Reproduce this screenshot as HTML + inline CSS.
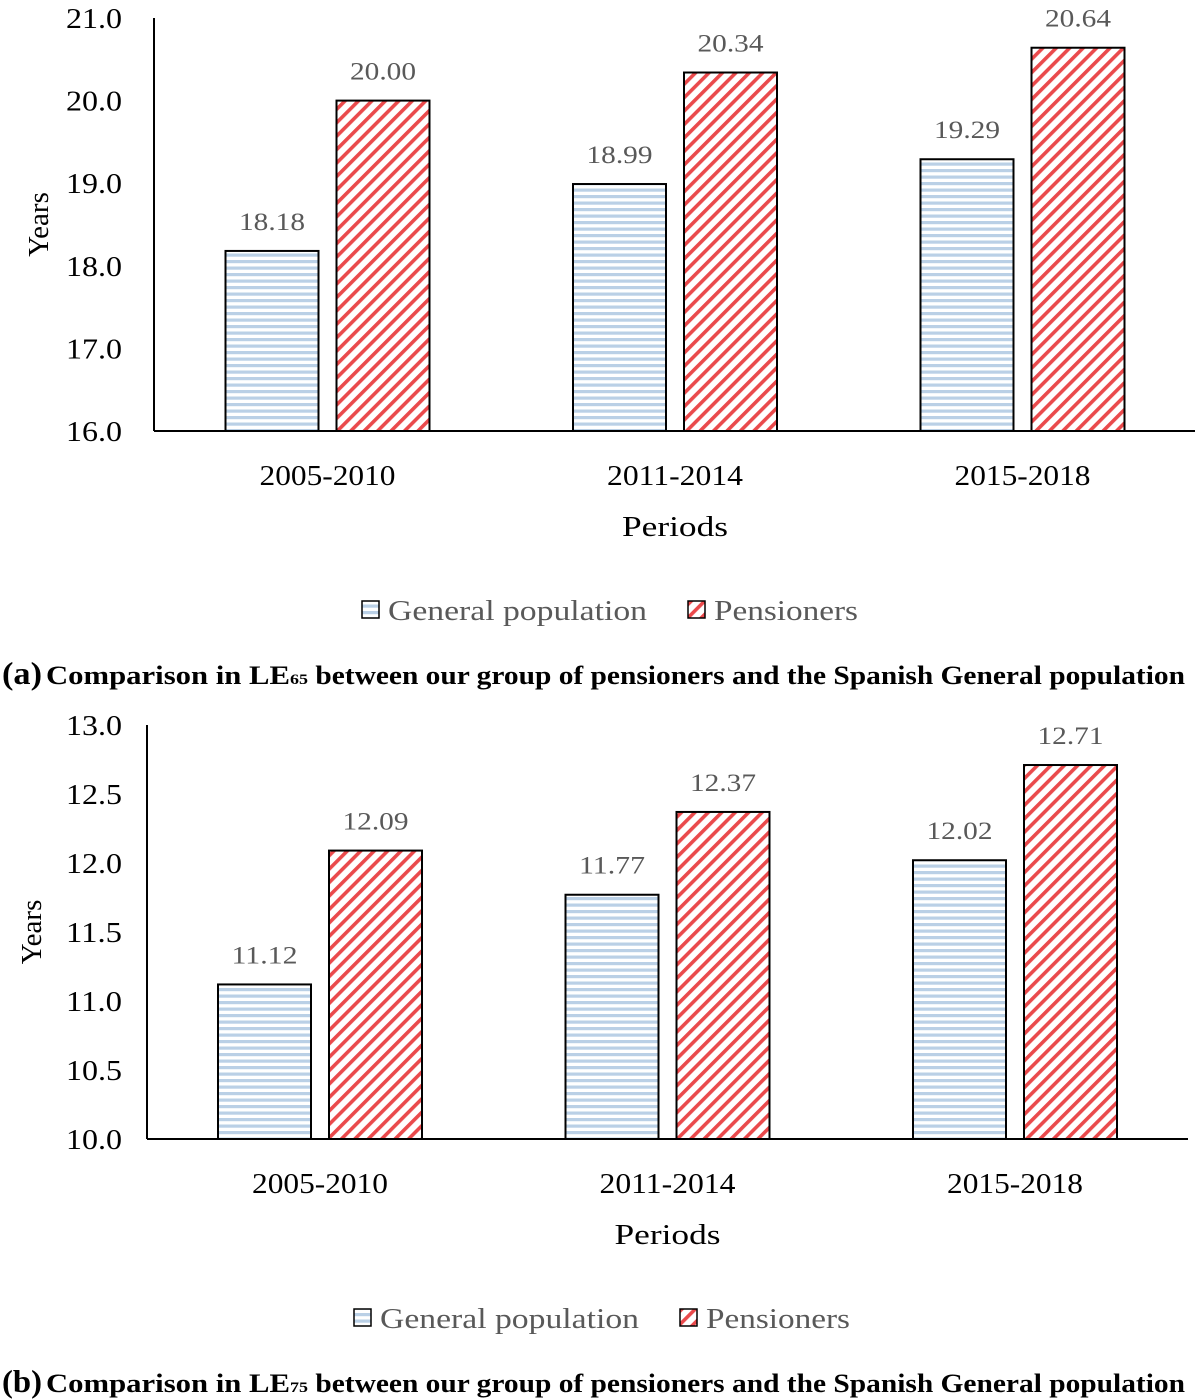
<!DOCTYPE html>
<html><head><meta charset="utf-8"><style>
body{margin:0;background:#fff;}
svg{display:block;font-family:"Liberation Serif",serif;}
</style></head><body>
<svg id="s" width="1200" height="1399" viewBox="0 0 1200 1399">
<defs>
<pattern id="hz" width="8" height="6.5" patternUnits="userSpaceOnUse"><rect width="8" height="6.5" fill="#fff"/><rect y="0" width="8" height="3.2" fill="#bad0e6"/></pattern>
<pattern id="dg" width="9.5" height="9.5" patternUnits="userSpaceOnUse" patternTransform="rotate(45)"><rect width="9.5" height="9.5" fill="#fff"/><rect x="0" width="3.6" height="9.5" fill="#ea4a4c"/></pattern>
</defs>
</svg>
<script>
const categories=["2005-2010","2011-2014","2015-2018"];
const generalA=[18.18,18.99,19.29];
const pensionersA=[20.00,20.34,20.64];
const ticksA=[16,17,18,19,20,21];
const generalB=[11.12,11.77,12.02];
const pensionersB=[12.09,12.37,12.71];
const ticksB=[10,10.5,11,11.5,12,12.5,13];
const NS="http://www.w3.org/2000/svg";
const svg=document.getElementById('s');
function mk(tag,attrs,parent,text){const e=document.createElementNS(NS,tag);for(const k in attrs)e.setAttribute(k,attrs[k]);if(text!==undefined)e.textContent=text;(parent||svg).appendChild(e);return e;}
function chart(c){
 const g=mk('g',{});
 
 
 const y=v=>c.y0-(v-c.min)/(c.max-c.min)*(c.y0-c.y1);
 c.ticks.forEach(t=>{const e=mk('text',{x:122,y:y(t)+10,'text-anchor':'end','font-size':28,fill:'#000',textLength:56,lengthAdjust:'spacingAndGlyphs'},g,t.toFixed(1));
  });
 const yt=mk('text',{transform:`translate(${c.ytx},${(c.y0+c.y1)/2}) rotate(-90)`,'text-anchor':'middle','font-size':29},g,'Years');
 
 const step=347.5;
 categories.forEach((cat,i)=>{
  const cx=c.cx0+i*step;
  [[c.gen[i],'url(#hz)',cx-102,'bar-general'],[c.pen[i],'url(#dg)',cx+9,'bar-pensioners']].forEach(([v,f,x,n])=>{
   const r=mk('rect',{x:x,y:y(v),width:93,height:c.y0-y(v),fill:f,stroke:'#000','stroke-width':2},g);
   
   const l=mk('text',{x:x+46.5,y:y(v)-21,'text-anchor':'middle','font-size':25,fill:'#595959',textLength:66,lengthAdjust:'spacingAndGlyphs'},g,v.toFixed(2));
   
  });
  const t=mk('text',{x:cx,y:c.y0+54,'text-anchor':'middle','font-size':29,textLength:136,lengthAdjust:'spacingAndGlyphs'},g,cat);
  
 });
 const ax=mk('line',{x1:c.ax,x2:c.ax+1041,y1:c.y0,y2:c.y0,stroke:'#000','stroke-width':2},g);
 
 const ay=mk('line',{x1:c.ax,x2:c.ax,y1:c.y0,y2:c.y1,stroke:'#000','stroke-width':2},g);
 
 const xt=mk('text',{x:c.cx0+step,y:c.y0+105,'text-anchor':'middle','font-size':29,textLength:106,lengthAdjust:'spacingAndGlyphs'},g,'Periods');
 
 const lg=mk('g',{},g);
 
 const ly=c.y0+189;
 const s1=mk('rect',{x:c.lx,y:ly-19,width:17,height:17,fill:'url(#hz)',stroke:'#000','stroke-width':1.5},lg);
 
 const t1=mk('text',{x:c.lx+26,y:ly,'font-size':29,fill:'#595959',textLength:259,lengthAdjust:'spacingAndGlyphs'},lg,'General population');
 
 const s2=mk('rect',{x:c.lx+326,y:ly-19,width:17,height:17,fill:'url(#dg)',stroke:'#000','stroke-width':1.5},lg);
 
 const t2=mk('text',{x:c.lx+352,y:ly,'font-size':29,fill:'#595959',textLength:144,lengthAdjust:'spacingAndGlyphs'},lg,'Pensioners');
 
 const cap=mk('text',{x:2,y:c.capY,'font-size':26,'font-weight':'bold'},g);
 
 mk('tspan',{'font-size':32,textLength:40,lengthAdjust:'spacingAndGlyphs'},cap,c.lab);
 mk('tspan',{x:46,textLength:244,lengthAdjust:'spacingAndGlyphs'},cap,'Comparison in LE');
 mk('tspan',{'font-size':15,textLength:18,lengthAdjust:'spacingAndGlyphs'},cap,c.sub);
 mk('tspan',{textLength:877,lengthAdjust:'spacingAndGlyphs'},cap,' between our group of pensioners and the Spanish General population');
}
chart({name:'chart-a',min:16,max:21,y0:431,y1:18,ax:154,cx0:327.5,ytx:48,gen:generalA,pen:pensionersA,ticks:ticksA,lx:362,capY:684,lab:'(a)',sub:'65'});
chart({name:'chart-b',min:10,max:13,y0:1139,y1:725,ax:147,cx0:320,ytx:41,gen:generalB,pen:pensionersB,ticks:ticksB,lx:354,capY:1392,lab:'(b)',sub:'75'});
</script>
</body></html>
